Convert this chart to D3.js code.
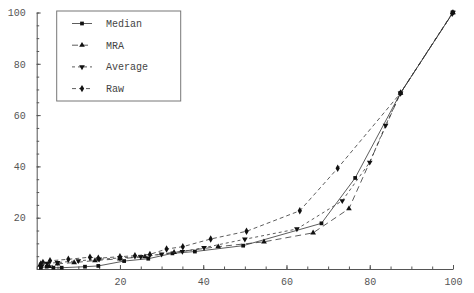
<!DOCTYPE html>
<html><head><meta charset="utf-8">
<script src="https://cdn.jsdelivr.net/npm/d3@7"></script>
<style>
html,body{margin:0;padding:0;background:#fff;}
svg{display:block;}
text{font-family:"Liberation Mono","DejaVu Sans Mono",monospace;}
</style></head>
<body><svg id="c" width="474" height="293"></svg>
<script>
// ---- data ----
const seriesNames = ["Median", "MRA", "Average", "Raw"];
const medianX = [1, 2.4, 4, 6, 11.6, 14.8, 21, 26.8, 32.6, 38, 49.6, 68.4, 76.5, 87.4, 100];
const medianY = [0.5, 0.9, 0.5, 0.5, 0.9, 1.2, 3.1, 4.0, 6.1, 6.8, 9.1, 17.8, 35.5, 68.6, 100];
const mraX = [0.8, 1.5, 3, 5, 9, 14, 20, 26, 33, 43.6, 54.6, 66.4, 75, 87.4, 100];
const mraY = [1.5, 2.7, 1.0, 2.0, 2.5, 3.3, 4.0, 4.8, 6.5, 8.7, 10.6, 14.1, 23.5, 68.6, 100];
const averageX = [1.2, 2.5, 5, 10, 15, 20, 25, 30, 35, 40.2, 50, 62.5, 73.4, 80, 83.8, 87.4, 100];
const averageY = [1.2, 2.2, 2.5, 3.2, 3.8, 4.3, 4.8, 5.8, 6.8, 8.3, 11.6, 15.6, 26.6, 41.6, 56, 68.6, 100];
const rawX = [1, 3.2, 7.6, 12.8, 14.8, 20, 23.6, 27.2, 31.2, 35.1, 41.8, 50.4, 63.2, 72.3, 87.4, 99.8];
const rawY = [2, 3.2, 3.8, 4.6, 4.2, 4.8, 5.2, 5.7, 7.8, 8.7, 11.7, 14.7, 22.7, 39.3, 68.6, 99.7];
const xTicks = [20, 40, 60, 80, 100];
const yTicks = [20, 40, 60, 80, 100];

// ---- styles ----
const styles = [
  {dash: null, sym: d3.symbolSquare, size: 14, rot: 0},
  {dash: "6,4", sym: d3.symbolTriangle, size: 14, rot: 0},
  {dash: "3,3", sym: d3.symbolTriangle, size: 14, rot: 180},
  {dash: "4,3", sym: d3.symbolDiamond, size: 16, rot: 0}
];
const allX = [medianX, mraX, averageX, rawX];
const allY = [medianY, mraY, averageY, rawY];

const svg = d3.select("#c");
const x = d3.scaleLinear().domain([0, 100]).range([36.7, 453]);
const y = d3.scaleLinear().domain([0, 100]).range([269, 12.5]);

const axisCol = "#555";
// minor ticks
const minor = d3.range(0, 101, 5);
svg.append("g").attr("transform", "translate(0,269)")
  .call(d3.axisBottom(x).tickValues(minor).tickSize(-2.5).tickFormat(""))
  .call(g => g.select(".domain").remove())
  .call(g => g.selectAll("line").attr("stroke", axisCol));
svg.append("g").attr("transform", "translate(36.7,0)")
  .call(d3.axisLeft(y).tickValues(minor).tickSize(-2.5).tickFormat(""))
  .call(g => g.select(".domain").remove())
  .call(g => g.selectAll("line").attr("stroke", axisCol));
// major
const xa = svg.append("g").attr("transform", "translate(0,269)")
  .call(d3.axisBottom(x).tickValues(xTicks).tickSize(-4).tickSizeOuter(0).tickPadding(9));
const ya = svg.append("g").attr("transform", "translate(36.7,0)")
  .call(d3.axisLeft(y).tickValues(yTicks).tickSize(-4).tickSizeOuter(0).tickPadding(11));
[xa, ya].forEach(g => {
  g.select(".domain").attr("stroke", axisCol).attr("stroke-width", 1);
  g.selectAll("line").attr("stroke", axisCol);
  g.selectAll("text").attr("fill", "#555").attr("font-size", 10)
    .attr("font-family", "Liberation Mono, DejaVu Sans Mono, monospace");
});

// lines & markers
const line = d3.line().x(d => x(d[0])).y(d => y(d[1]));
allX.forEach((xs, i) => {
  const pts = xs.map((v, j) => [v, allY[i][j]]);
  const st = styles[i];
  svg.append("path").attr("d", line(pts)).attr("fill", "none")
    .attr("stroke", "#333").attr("stroke-width", 0.8)
    .attr("stroke-dasharray", st.dash);
  svg.append("g").selectAll("path").data(pts).join("path")
    .attr("d", d3.symbol().type(st.sym).size(st.size))
    .attr("transform", d => `translate(${x(d[0])},${y(d[1])}) rotate(${st.rot})`)
    .attr("fill", "#111");
});

// legend
const lg = svg.append("g");
lg.append("rect").attr("x", 56.7).attr("y", 11).attr("width", 124).attr("height", 90)
  .attr("fill", "#fff").attr("stroke", "#777").attr("stroke-width", 1);
seriesNames.forEach((n, i) => {
  const ly = 23.5 + i * 21.7;
  const st = styles[i];
  lg.append("line").attr("x1", 72).attr("x2", 92).attr("y1", ly).attr("y2", ly)
    .attr("stroke", "#333").attr("stroke-width", 0.8).attr("stroke-dasharray", st.dash);
  lg.append("path").attr("d", d3.symbol().type(st.sym).size(st.size))
    .attr("transform", `translate(82,${ly}) rotate(${st.rot})`).attr("fill", "#111");
  lg.append("text").attr("x", 106).attr("y", ly + 3.5).attr("font-size", 10)
    .attr("fill", "#444").text(n);
});
</script></body></html>
